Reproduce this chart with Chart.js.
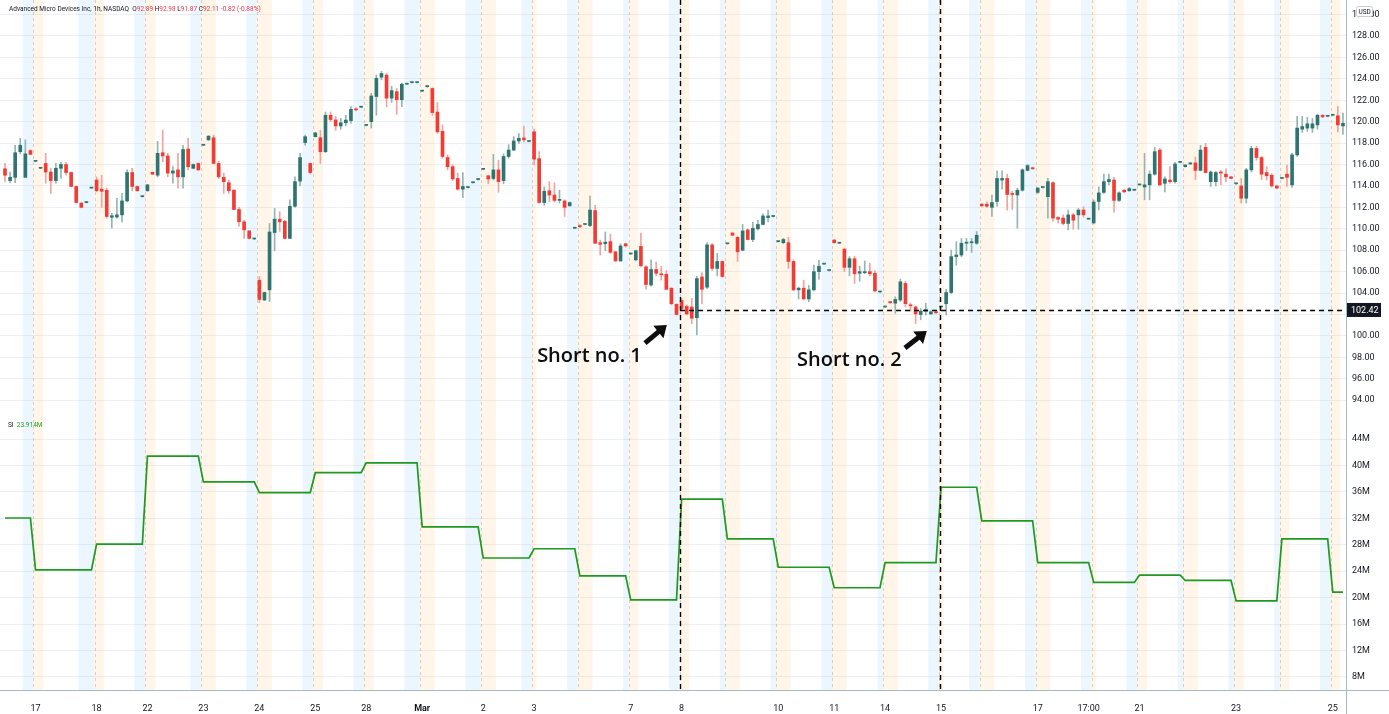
<!DOCTYPE html>
<html>
<head>
<meta charset="utf-8">
<script src="https://cdn.jsdelivr.net/npm/chart.js@4.4.0/dist/chart.umd.min.js"></script>
<style>
  html, body { margin: 0; padding: 0; background: #ffffff; }
  #wrap { width: 1389px; height: 714px; position: relative; }
</style>
</head>
<body>
<div id="wrap"><canvas id="chart" width="1389" height="714"></canvas></div>
<script>
// AMD 1h candles, Feb 16 - Mar 25 (one entry per bar)
const opens = [
  115.6, 114.5, 114.8, 117.2, 114.8, 117.3, 116.3, 115.65, 116.1, 115.3,
  114.5, 115.65, 116.0, 115.25, 113.95, 112.4, 112.45, 113.8, 114.55, 113.7,
  113.6, 111.07, 111.1, 111.3, 112.6, 115.25, 113.95, 113.0, 113.55, 115.27,
  115.0, 117.1, 116.8, 115.2, 115.5, 114.85, 117.45, 115.65, 116.1, 117.8,
  118.3, 118.5, 116.1, 114.8, 114.3, 113.6, 111.8, 110.65, 109.8, 109.05,
  105.2, 103.35, 104.3, 109.65, 110.9, 110.7, 109.1, 112.1, 114.45, 118.05,
  116.1, 118.6, 118.5, 117.2, 120.6, 120.16, 119.6, 119.9, 120.1, 121.2,
  121.35, 119.65, 120.0, 122.35, 124.15, 124.35, 122.2, 122.8, 122.05, 123.5,
  123.65, 123.65, 122.85, 123.27, 123.1, 120.9, 119.1, 116.65, 115.8, 114.7,
  113.7, 113.85, 114.3, 114.6, 115.55, 114.95, 114.7, 115.5, 114.5, 116.75,
  117.35, 118.2, 118.48, 118.15, 119.05, 116.55, 112.45, 113.55, 113.15, 112.65,
  112.6, 112.15, 110.05, 110.3, 110.4, 110.3, 111.7, 108.7, 108.6, 108.8,
  107.85, 107.0, 108.6, 107.65, 107.1, 108.35, 106.45, 104.75, 106.2, 105.8,
  105.75, 104.45, 102.95, 103.3, 102.75, 102.7, 101.7, 105.5, 104.55, 108.5,
  106.3, 106.95, 108.6, 109.6, 109.2, 108.0, 109.9, 109.0, 110.0, 110.4,
  111.05, 111.15, 108.8, 108.7, 108.7, 106.95, 104.3, 104.45, 103.45, 104.3,
  106.0, 106.7, 106.1, 108.95, 108.65, 108.1, 106.4, 107.2, 105.85, 105.9,
  106.0, 105.85, 104.1, 102.7, 103.2, 103.05, 103.35, 104.9, 102.9, 102.7,
  102.0, 102.3, 102.05, 102.25, 102.7, 103.0, 104.05, 107.4, 107.55, 108.65,
  108.7, 108.65, 112.3, 112.3, 112.0, 112.55, 114.55, 114.7, 113.3, 113.15,
  113.6, 115.45, 115.7, 113.4, 113.85, 113.0, 114.3, 111.05, 111.0, 110.5,
  111.3, 111.3, 111.75, 110.9, 110.55, 112.55, 113.4, 114.4, 114.55, 112.65,
  113.6, 113.55, 113.6, 114.1, 113.9, 114.1, 115.1, 117.35, 114.25, 114.55,
  114.4, 116.2, 115.8, 116.05, 116.15, 115.45, 117.6, 114.4, 114.4, 115.3,
  115.1, 114.85, 114.2, 114.0, 112.85, 115.5, 117.5, 116.65, 115.25, 115.0,
  114.0, 114.7, 115.1, 114.1, 116.9, 119.3, 119.4, 119.4, 119.7, 120.6,
  120.5, 120.6, 120.55, 119.6
];
const highs = [
  116.1, 115.3, 117.8, 118.45, 118.3, 117.4, 116.35, 115.7, 117.05, 115.65,
  116.1, 116.2, 116.2, 115.3, 114.0, 112.45, 112.5, 113.85, 114.85, 115.0,
  113.8, 111.45, 112.85, 113.3, 115.5, 115.65, 114.0, 113.05, 114.15, 115.3,
  118.15, 119.2, 117.05, 115.8, 117.05, 117.8, 118.45, 116.05, 116.15, 117.85,
  118.7, 118.75, 116.3, 115.2, 114.55, 113.65, 112.0, 110.8, 109.85, 109.1,
  105.55, 104.1, 110.5, 111.9, 111.6, 110.8, 112.7, 114.85, 117.05, 118.75,
  116.15, 119.0, 119.2, 120.9, 120.9, 120.5, 120.3, 120.6, 121.4, 121.3,
  121.4, 119.7, 122.65, 124.35, 124.7, 124.5, 123.3, 123.1, 123.6, 123.55,
  123.7, 123.7, 122.9, 123.4, 123.15, 121.8, 119.7, 116.9, 116.0, 115.2,
  115.25, 113.9, 114.35, 114.65, 115.6, 115.0, 116.95, 116.4, 117.0, 117.85,
  118.6, 118.9, 119.6, 118.2, 119.3, 117.2, 113.9, 114.4, 114.3, 113.6,
  112.7, 112.5, 110.1, 110.4, 110.45, 113.05, 112.2, 108.95, 109.7, 109.5,
  107.9, 108.6, 108.65, 107.7, 108.0, 109.6, 106.55, 107.1, 106.9, 106.5,
  106.1, 104.5, 103.0, 103.5, 102.9, 103.5, 105.55, 105.9, 108.7, 108.6,
  107.7, 107.0, 108.65, 109.65, 109.3, 110.4, 110.0, 110.6, 110.8, 111.4,
  111.75, 111.2, 108.85, 109.1, 109.2, 107.1, 104.55, 105.2, 104.7, 106.6,
  107.05, 106.75, 106.15, 109.0, 108.7, 108.2, 107.4, 107.45, 106.5, 107.0,
  106.8, 106.1, 104.15, 102.75, 103.2, 103.65, 105.3, 105.1, 103.05, 102.8,
  102.55, 103.05, 102.35, 102.3, 102.75, 104.35, 108.0, 108.8, 109.1, 109.1,
  109.1, 109.75, 112.35, 112.5, 113.15, 115.4, 115.4, 115.1, 113.5, 113.8,
  115.6, 116.0, 115.75, 113.85, 113.9, 114.7, 114.4, 111.15, 111.3, 111.75,
  111.45, 111.9, 112.05, 110.95, 112.7, 113.9, 115.1, 115.1, 114.8, 113.45,
  113.7, 113.85, 113.65, 114.15, 117.05, 115.4, 117.6, 117.5, 114.85, 115.8,
  116.2, 116.25, 116.0, 116.2, 116.7, 117.8, 117.98, 115.4, 115.35, 115.45,
  115.6, 114.9, 114.25, 114.7, 115.65, 117.7, 117.7, 116.75, 115.8, 115.15,
  114.05, 114.75, 115.95, 117.05, 120.5, 120.5, 120.4, 120.3, 120.7, 120.65,
  120.55, 120.65, 121.4, 120.8
];
const lows = [
  114.4, 114.3, 114.3, 117.0, 114.8, 116.9, 116.25, 115.6, 114.25, 113.3,
  114.25, 114.7, 115.0, 113.9, 112.4, 111.95, 112.4, 113.75, 113.45, 112.0,
  111.0, 110.05, 111.0, 110.65, 112.5, 113.55, 113.5, 112.95, 113.5, 115.05,
  114.85, 116.25, 114.85, 114.25, 113.8, 113.8, 115.5, 115.6, 115.45, 117.75,
  118.25, 116.1, 114.7, 113.3, 113.3, 111.75, 110.25, 109.1, 109.05, 109.0,
  103.1, 103.3, 103.2, 107.95, 109.75, 109.05, 109.1, 112.0, 114.0, 117.8,
  115.1, 118.55, 116.1, 117.1, 120.0, 119.2, 119.3, 119.6, 119.85, 121.0,
  121.3, 119.6, 119.4, 120.6, 123.9, 121.4, 121.8, 120.7, 121.4, 123.45,
  123.6, 123.6, 122.8, 123.2, 120.6, 118.9, 116.6, 115.5, 114.5, 113.6,
  112.9, 113.8, 114.25, 114.55, 115.5, 114.2, 114.55, 113.4, 114.2, 116.6,
  117.3, 117.95, 118.1, 118.1, 115.95, 112.4, 112.2, 112.55, 112.5, 112.4,
  111.15, 112.1, 110.0, 110.1, 110.35, 110.2, 108.6, 107.55, 107.95, 107.7,
  106.95, 106.95, 108.3, 107.6, 107.0, 106.45, 104.35, 104.65, 105.6, 105.2,
  104.3, 102.9, 101.95, 102.4, 101.95, 101.15, 100.1, 103.0, 104.4, 106.1,
  105.6, 105.45, 108.55, 109.35, 106.95, 107.95, 108.95, 108.8, 109.9, 110.35,
  110.65, 111.1, 108.75, 108.6, 106.3, 104.2, 103.45, 103.4, 103.2, 104.2,
  105.3, 106.65, 106.05, 108.65, 108.6, 106.0, 105.6, 104.9, 105.1, 105.8,
  105.6, 104.1, 104.05, 102.65, 103.0, 102.1, 103.2, 102.7, 102.3, 101.15,
  101.5, 101.95, 102.0, 102.1, 102.65, 101.95, 103.95, 106.6, 107.4, 107.95,
  107.8, 108.55, 112.05, 112.0, 111.15, 112.1, 113.7, 111.75, 111.8, 110.05,
  113.5, 115.4, 115.55, 113.3, 113.8, 111.0, 110.7, 110.55, 110.35, 109.9,
  109.95, 109.95, 111.1, 110.85, 110.45, 111.75, 113.3, 114.1, 111.55, 112.55,
  113.35, 113.5, 113.55, 114.05, 112.7, 112.7, 115.0, 114.0, 113.45, 114.25,
  114.25, 116.15, 115.75, 116.0, 114.6, 115.4, 115.2, 113.95, 114.0, 114.1,
  114.4, 114.65, 114.15, 112.4, 112.4, 115.3, 116.4, 114.6, 114.55, 113.9,
  113.75, 114.65, 113.95, 113.85, 116.75, 119.0, 119.1, 119.0, 119.3, 120.4,
  120.45, 120.55, 119.05, 118.8
];
const closes = [
  115.0, 114.8, 117.1, 117.8, 117.0, 116.95, 116.3, 115.65, 115.3, 114.5,
  115.65, 116.0, 115.25, 113.95, 112.45, 112.0, 112.45, 113.8, 113.55, 113.5,
  111.15, 111.22, 111.3, 112.6, 115.25, 113.95, 113.55, 113.0, 114.1, 115.1,
  117.05, 116.8, 115.2, 115.4, 114.85, 117.4, 115.8, 116.0, 115.5, 117.8,
  118.65, 116.1, 114.85, 114.4, 113.55, 111.8, 110.65, 109.9, 109.1, 109.05,
  103.4, 104.05, 109.7, 110.9, 110.65, 109.1, 112.1, 114.4, 116.65, 118.6,
  115.25, 118.95, 117.2, 120.6, 120.2, 119.6, 119.9, 120.15, 121.15, 121.1,
  121.35, 119.65, 122.4, 124.05, 124.5, 122.2, 122.9, 122.05, 123.5, 123.5,
  123.65, 123.65, 122.85, 123.36, 120.85, 119.05, 116.75, 115.8, 114.65, 113.7,
  113.95, 113.85, 114.3, 114.6, 115.55, 114.65, 115.5, 114.4, 116.75, 117.35,
  118.2, 118.45, 118.3, 118.15, 116.5, 112.45, 113.5, 113.15, 112.65, 112.75,
  112.0, 112.45, 110.05, 110.2, 110.4, 111.75, 108.65, 108.55, 108.75, 107.8,
  107.0, 108.4, 108.4, 107.65, 107.95, 106.55, 104.8, 106.2, 105.85, 105.7,
  104.35, 103.0, 102.0, 102.55, 102.05, 101.65, 105.35, 104.35, 108.5, 106.3,
  106.95, 105.55, 108.6, 109.4, 107.85, 109.8, 109.0, 110.05, 110.4, 111.2,
  111.2, 111.15, 108.8, 109.0, 106.95, 104.3, 104.45, 103.45, 104.3, 106.0,
  106.5, 106.7, 106.1, 108.7, 108.65, 106.4, 107.2, 105.8, 106.0, 106.0,
  105.8, 104.2, 104.1, 102.7, 103.1, 103.4, 105.05, 103.0, 102.8, 102.05,
  102.3, 102.45, 102.25, 102.15, 102.7, 104.05, 107.4, 107.55, 108.65, 108.75,
  108.75, 109.4, 112.15, 112.1, 112.45, 114.7, 114.7, 113.2, 113.2, 113.6,
  115.5, 115.9, 115.6, 113.8, 113.85, 114.4, 111.0, 110.9, 110.5, 111.3,
  110.8, 111.75, 111.3, 110.9, 112.5, 113.35, 114.4, 114.6, 112.65, 113.35,
  113.45, 113.75, 113.6, 114.1, 114.1, 115.1, 117.2, 114.1, 114.65, 114.4,
  116.05, 116.2, 115.95, 116.15, 115.45, 117.35, 115.25, 115.3, 115.25, 115.2,
  114.85, 114.7, 114.2, 112.85, 115.5, 117.5, 116.65, 115.1, 114.95, 114.0,
  113.8, 114.7, 114.8, 116.9, 119.4, 119.55, 119.8, 119.8, 120.6, 120.45,
  120.5, 120.6, 119.7, 119.85
];

// sessions: first bar of each day, extended-hours bar counts
const dayStart = [0, 6, 18, 28, 39, 50, 61, 71, 82, 94, 104, 113, 123, 133, 142, 152, 163, 173, 184, 192, 203, 214, 223, 232, 242, 251, 261];
const preBars  = [0, 2, 2, 2, 3, 3, 2, 2, 3, 3, 1, 3, 2, 2, 3, 3, 3, 3, 1, 3, 3, 1, 2, 3, 2, 2, 2];
const postBars = [2, 3, 2, 2, 2, 2, 2, 3, 3, 2, 2, 1, 2, 1, 1, 2, 1, 2, 2, 2, 2, 2, 1, 1, 1, 2, 0];

// short interest, millions, one value per day
const shortInterest = [32.05, 24.2, 28.1, 41.4, 37.5, 35.9, 38.9, 40.4, 30.7, 26.0, 27.4, 23.3, 19.65, 34.9,
  28.9, 24.6, 21.5, 25.3, 36.7, 31.6, 25.3, 22.3, 23.4, 22.6, 19.5, 28.9, 20.85];

// axis ticks
const tickBars = [6, 18, 28, 39, 50, 61, 71, 82, 94, 104, 123, 133, 152, 163, 173, 184, 203, 213, 223, 242, 261];
const tickText = ['17', '18', '22', '23', '24', '25', '28', 'Mar', '2', '3', '7', '8', '10', '11', '14', '15', '17', '17:00', '21', '23', '25'];
const priceTicks = [94, 96, 98, 100, 102, 104, 106, 108, 110, 112, 114, 116, 118, 120, 122, 124, 126, 128, 130];
const siTicks = [8, 12, 16, 20, 24, 28, 32, 36, 40, 44];

const markLevel = 102.42;
const markDays = [13, 18]; // Mar 8, Mar 15

const notes = [
  { text: 'Short no. 1', bar: 104.6, price: 97.56, tail: [125.8, 99.33], tip: [130.1, 101.02] },
  { text: 'Short no. 2', bar: 155.7, price: 97.19, tail: [176.9, 98.87], tip: [181.2, 100.46] }
];

const UP = '#2f7470', DOWN = '#f23b33';
const UP_WICK = '#92b6b2', DOWN_WICK = '#f5a29d';
const TEXT = '#131722';
const AXIS_LINE = '#a3bcc3';

const dayOf = (i) => {
  let d = 0;
  while (d + 1 < dayStart.length && dayStart[d + 1] <= i) d++;
  return d;
};

const bodyData = opens.map((o, i) => ({ x: i, y: [o, closes[i]] }));
const wickData = opens.map((o, i) => ({ x: i, y: [lows[i], highs[i]] }));
const upBar = opens.map((o, i) => closes[i] >= o);
const siData = opens.map((o, i) => ({ x: i, y: shortInterest[dayOf(i)] }));

// no edge padding, fixed axis sizes
const fixBox = (w, h) => (s) => {
  if (w) s.width = w;
  if (h) s.height = h;
  s.paddingTop = 0; s.paddingBottom = 0; s.paddingLeft = 0; s.paddingRight = 0;
};

const sessionsPlugin = {
  id: 'sessions',
  beforeDatasetsDraw(chart) {
    const { ctx, chartArea: a, scales: { x } } = chart;
    ctx.save();
    ctx.beginPath();
    ctx.rect(a.left, a.top, a.width, a.height);
    ctx.clip();
    dayStart.forEach((s, d) => {
      const e = d + 1 < dayStart.length ? dayStart[d + 1] : opens.length;
      if (preBars[d]) {
        const x0 = x.getPixelForValue(s - 0.5), x1 = x.getPixelForValue(s - 0.5 + preBars[d]);
        ctx.fillStyle = 'rgba(255,152,0,0.085)';
        ctx.fillRect(x0, a.top, x1 - x0, a.height);
      }
      if (postBars[d]) {
        const x0 = x.getPixelForValue(e - 0.5 - postBars[d]), x1 = x.getPixelForValue(e - 0.5);
        ctx.fillStyle = 'rgba(33,150,243,0.085)';
        ctx.fillRect(x0, a.top, x1 - x0, a.height);
      }
    });
    ctx.strokeStyle = 'rgba(120,120,120,0.32)';
    ctx.lineWidth = 1;
    ctx.setLineDash([3, 3]);
    dayStart.slice(1).forEach((s) => {
      const px = Math.round(x.getPixelForValue(s - 0.4)) + 0.5;
      ctx.beginPath();
      ctx.moveTo(px, a.top);
      ctx.lineTo(px, a.bottom);
      ctx.stroke();
    });
    ctx.restore();
  },
  afterDatasetsDraw(chart) {
    const { ctx, chartArea: a, scales: { x, y } } = chart;
    ctx.save();
    // marker lines
    ctx.strokeStyle = '#000000';
    ctx.lineWidth = 1.4;
    ctx.setLineDash([5, 4]);
    markDays.forEach((d) => {
      const px = Math.round(x.getPixelForValue(dayStart[d] - 0.3)) + 0.5;
      ctx.beginPath();
      ctx.moveTo(px, a.top);
      ctx.lineTo(px, a.bottom);
      ctx.stroke();
    });
    const py = Math.round(y.getPixelForValue(markLevel)) + 0.5;
    ctx.beginPath();
    ctx.moveTo(x.getPixelForValue(dayStart[markDays[0]] - 0.3), py);
    ctx.lineTo(a.right, py);
    ctx.stroke();
    ctx.setLineDash([]);

    // notes + arrows
    ctx.fillStyle = '#0d0d0d';
    ctx.strokeStyle = '#0d0d0d';
    ctx.font = '600 20px "Open Sans", "Noto Sans", sans-serif';
    ctx.textBaseline = 'alphabetic';
    ctx.textAlign = 'left';
    notes.forEach((n) => {
      ctx.fillText(n.text, x.getPixelForValue(n.bar), y.getPixelForValue(n.price));
      const tx = x.getPixelForValue(n.tail[0]), ty = y.getPixelForValue(n.tail[1]);
      const hx = x.getPixelForValue(n.tip[0]), hy = y.getPixelForValue(n.tip[1]);
      const len = Math.hypot(hx - tx, hy - ty);
      const ux = (hx - tx) / len, uy = (hy - ty) / len;
      const bx = hx - ux * 11, by = hy - uy * 11;
      ctx.lineWidth = 5;
      ctx.beginPath();
      ctx.moveTo(tx, ty);
      ctx.lineTo(bx + ux * 2, by + uy * 2);
      ctx.stroke();
      ctx.beginPath();
      ctx.moveTo(hx, hy);
      ctx.lineTo(bx - uy * 8, by + ux * 8);
      ctx.lineTo(bx + uy * 8, by - ux * 8);
      ctx.closePath();
      ctx.fill();
    });
    ctx.restore();
  },
  afterDraw(chart) {
    const { ctx, chartArea: a, scales: { y, si } } = chart;
    const W = chart.width, H = chart.height;
    ctx.save();
    // axis frame
    ctx.strokeStyle = AXIS_LINE;
    ctx.lineWidth = 1;
    ctx.beginPath();
    ctx.moveTo(Math.round(a.right) + 0.5, 0);
    ctx.lineTo(Math.round(a.right) + 0.5, H);
    ctx.moveTo(0, Math.round(a.bottom) + 0.5);
    ctx.lineTo(W, Math.round(a.bottom) + 0.5);
    ctx.stroke();

    // marked price label
    const py = y.getPixelForValue(markLevel);
    ctx.fillStyle = '#131722';
    ctx.fillRect(a.right + 1, py - 7, 34, 14);
    ctx.fillStyle = '#ffffff';
    ctx.font = '9px Roboto, sans-serif';
    ctx.textBaseline = 'middle';
    ctx.textAlign = 'left';
    ctx.fillText(markLevel.toFixed(2), a.right + 5, py + 0.5);

    // USD badge
    ctx.fillStyle = '#ffffff';
    ctx.strokeStyle = '#c9ccd3';
    ctx.beginPath();
    ctx.roundRect(a.right + 10.5, 6.5, 16, 10, 2);
    ctx.fill();
    ctx.stroke();
    ctx.fillStyle = TEXT;
    ctx.font = '6.5px Roboto, sans-serif';
    ctx.fillText('USD', a.right + 12.5, 12);

    // legend lines
    ctx.font = '6.5px Roboto, sans-serif';
    let cx = 9;
    const put = (t, c) => { ctx.fillStyle = c; ctx.fillText(t, cx, 9); cx += ctx.measureText(t).width; };
    put('Advanced Micro Devices Inc, 1h, NASDAQ  ', TEXT);
    put('O', TEXT); put('92.89 ', '#f23645');
    put('H', TEXT); put('92.98 ', '#f23645');
    put('L', TEXT); put('91.87 ', '#f23645');
    put('C', TEXT); put('92.11 ', '#f23645');
    put('-0.82 (-0.88%)', '#f23645');

    cx = 8;
    const putSi = (t, c) => { ctx.fillStyle = c; ctx.fillText(t, cx, si.top + 9); cx += ctx.measureText(t).width; };
    putSi('SI  ', TEXT);
    putSi('23.914M', '#22a022');
    ctx.restore();
  }
};

new Chart(document.getElementById('chart'), {
  type: 'bar',
  data: {
    datasets: [
      {
        type: 'line',
        data: siData,
        yAxisID: 'si',
        borderColor: '#1f991f',
        borderWidth: 1.7,
        pointRadius: 0,
        tension: 0,
        order: 0
      },
      {
        data: bodyData,
        yAxisID: 'y',
        grouped: false,
        barThickness: 3,
        minBarLength: 1,
        borderWidth: 0,
        borderSkipped: false,
        backgroundColor: upBar.map((u) => (u ? UP : DOWN)),
        order: 1
      },
      {
        data: wickData,
        yAxisID: 'y',
        grouped: false,
        barThickness: 1,
        borderWidth: 0,
        borderSkipped: false,
        backgroundColor: upBar.map((u) => (u ? UP_WICK : DOWN_WICK)),
        order: 2
      }
    ]
  },
  options: {
    responsive: false,
    animation: false,
    layout: { padding: 0 },
    plugins: { legend: { display: false }, tooltip: { enabled: false } },
    scales: {
      x: {
        type: 'linear',
        min: -0.983,
        max: 263.6,
        offset: false,
        grid: { display: false },
        border: { display: false },
        afterBuildTicks: (ax) => { ax.ticks = tickBars.map((v) => ({ value: v })); },
        afterFit: fixBox(0, 24),
        ticks: {
          autoSkip: false,
          maxRotation: 0,
          padding: 5,
          color: TEXT,
          font: (c) => ({ family: 'Roboto', size: 9, weight: c.tick && c.tick.label === 'Mar' ? 'bold' : 'normal' }),
          callback: (v) => tickText[tickBars.indexOf(v)]
        }
      },
      y: {
        type: 'linear',
        position: 'right',
        stack: 'panes',
        stackWeight: 416,
        min: 92.52,
        max: 131.36,
        grid: { color: '#eef0f3', drawTicks: false },
        border: { display: false },
        afterBuildTicks: (ax) => { ax.ticks = priceTicks.map((v) => ({ value: v })); },
        afterFit: fixBox(43, 0),
        ticks: {
          autoSkip: false,
          padding: 6,
          color: TEXT,
          font: { family: 'Roboto', size: 9 },
          callback: (v) => v.toFixed(2)
        }
      },
      si: {
        type: 'linear',
        position: 'right',
        stack: 'panes',
        stackWeight: 274,
        min: 6.03,
        max: 47.48,
        grid: { color: '#eef0f3', drawTicks: false },
        border: { display: false },
        afterBuildTicks: (ax) => { ax.ticks = siTicks.map((v) => ({ value: v })); },
        afterFit: fixBox(43, 0),
        ticks: {
          autoSkip: false,
          padding: 6,
          color: TEXT,
          font: { family: 'Roboto', size: 9 },
          callback: (v) => v + 'M'
        }
      }
    }
  },
  plugins: [sessionsPlugin]
});
</script>
</body>
</html>
